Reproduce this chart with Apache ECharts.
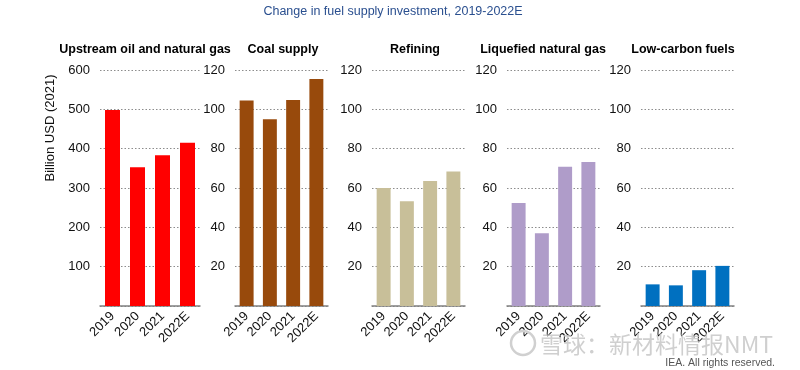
<!DOCTYPE html>
<html>
<head>
<meta charset="utf-8">
<script src="https://cdn.jsdelivr.net/npm/echarts@6/dist/echarts.min.js"></script>
<style>
html,body{margin:0;padding:0;background:#fff;}
#chart{width:800px;height:370px;}
</style>
</head>
<body>
<div id="chart"></div>
<script>
// ---- data ----
const categories = ['2019', '2020', '2021', '2022E'];
const panelTitles = ['Upstream oil and natural gas', 'Coal supply', 'Refining', 'Liquefied natural gas', 'Low-carbon fuels'];
const upstream = [498, 353, 383, 415];
const coal = [104.5, 95, 104.7, 115.4];
const refining = [60, 53.3, 63.6, 68.4];
const lng = [52.4, 37, 70.8, 73.2];
const lowCarbon = [11, 10.5, 18.2, 20.4];
const upstreamAxis = [0, 600, 100];   // min, max, interval
const otherAxis = [0, 120, 20];
const mainTitle = 'Change in fuel supply investment, 2019-2022E';
const yAxisTitle = 'Billion USD (2021)';
const sourceText = 'IEA. All rights reserved.';
const watermark = '雪球：新材料情报NMT';

// ---- layout / style ----
const seriesData = [upstream, coal, refining, lng, lowCarbon];
const colors = ['#ff0000', '#984a0c', '#c8bf99', '#af9cc9', '#0070c0'];
const gridLefts = [100, 235, 372, 507, 641];
const gridWidths = [100, 93, 93, 93, 93];
const titleCenters = [145, 283, 415, 543, 683];
const font = '"Liberation Sans", Arial, sans-serif';

const grids = [], xAxes = [], yAxes = [], series = [], graphics = [];
seriesData.forEach((d, i) => {
  const ax = i === 0 ? upstreamAxis : otherAxis;
  grids.push({left: gridLefts[i], width: gridWidths[i], top: 70, height: 236, containLabel: false});
  xAxes.push({
    type: 'category', gridIndex: i, data: categories,
    axisLine: {lineStyle: {color: '#808080', width: 1.5}},
    axisTick: {show: false},
    axisLabel: {rotate: 45, fontSize: 13, color: '#111', fontFamily: font, margin: 8, interval: 0}
  });
  yAxes.push({
    type: 'value', gridIndex: i, min: ax[0], max: ax[1], interval: ax[2],
    axisLine: {show: false}, axisTick: {show: false},
    axisLabel: {fontSize: 13, color: '#111', fontFamily: font, margin: 10, showMinLabel: false,
      formatter: v => v === 0 ? '' : String(v)},
    splitLine: {lineStyle: {type: [1.5, 2], color: '#8c8c8c', width: 1}}
  });
  series.push({
    type: 'bar', xAxisIndex: i, yAxisIndex: i, data: d,
    barCategoryGap: '40%', itemStyle: {color: colors[i]}, silent: true
  });
  graphics.push({
    type: 'text', x: titleCenters[i], y: 50,
    style: {text: panelTitles[i], font: 'bold 12.5px ' + font, fill: '#000', textAlign: 'center', textVerticalAlign: 'middle'}
  });
});

graphics.push({
  type: 'text', x: 393, y: 12,
  style: {text: mainTitle, font: '12.5px ' + font, fill: '#2a4f8f', textAlign: 'center', textVerticalAlign: 'middle'}
});
graphics.push({
  type: 'text', x: 50, y: 128, rotation: Math.PI / 2,
  style: {text: yAxisTitle, font: '13px ' + font, fill: '#111', textAlign: 'center', textVerticalAlign: 'middle'}
});
graphics.push({
  type: 'circle', shape: {cx: 523, cy: 343, r: 12},
  style: {fill: 'none', stroke: '#d0d0d0', lineWidth: 2.5}, z: 10
});
graphics.push({
  type: 'text', x: 540, y: 344, z: 10,
  style: {text: watermark, font: '23px "Noto Sans CJK SC", sans-serif', fill: 'rgba(195,195,195,0.8)', textAlign: 'left', textVerticalAlign: 'middle'}
});
graphics.push({
  type: 'text', x: 775, y: 363, z: 11,
  style: {text: sourceText, font: '10.5px ' + font, fill: '#555', textAlign: 'right', textVerticalAlign: 'middle'}
});

const chart = echarts.init(document.getElementById('chart'), null, {renderer: 'canvas'});
chart.setOption({
  animation: false,
  backgroundColor: '#fff',
  grid: grids, xAxis: xAxes, yAxis: yAxes, series: series,
  graphic: graphics
});
</script>
</body>
</html>
